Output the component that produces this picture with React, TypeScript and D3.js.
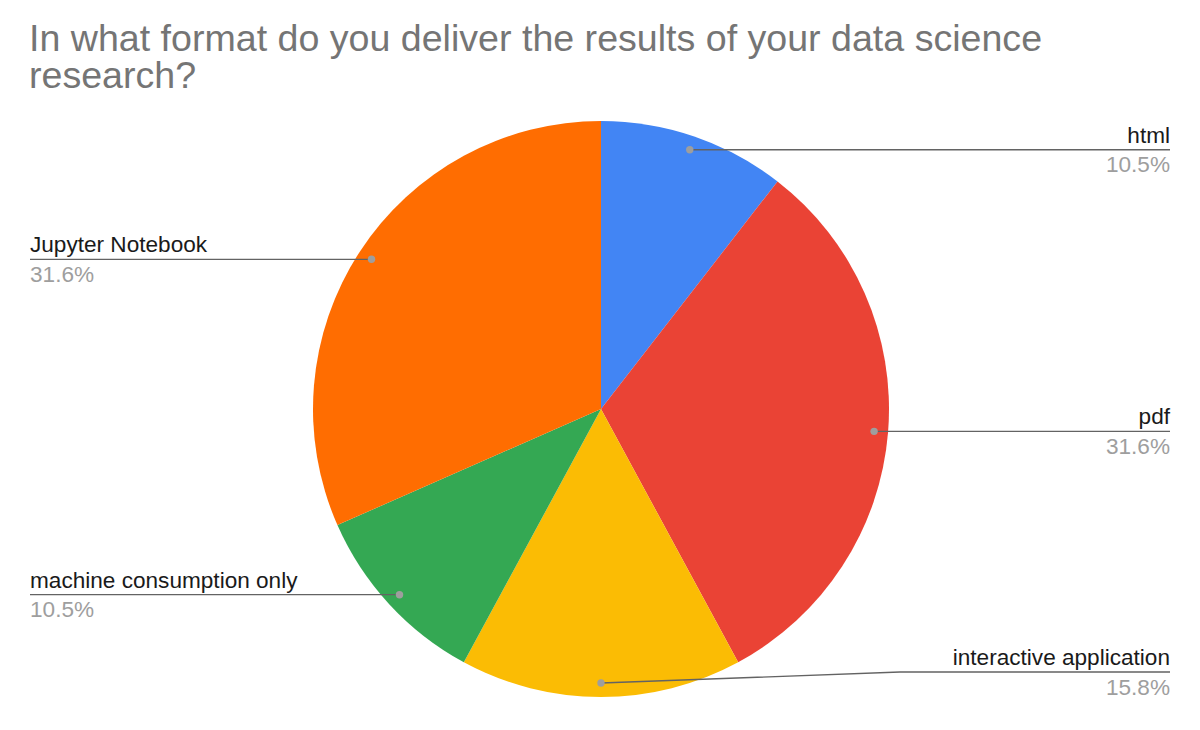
import { useEffect, useRef } from 'react';
import * as d3 from 'd3';

const TITLE_LINES = ['In what format do you deliver the results of your data science', 'research?'];
const CATEGORIES = ['html', 'pdf', 'interactive application', 'machine consumption only', 'Jupyter Notebook'];
const SHARES = [10.5, 31.6, 15.8, 10.5, 31.6];
const COLORS = ['#4285F4', '#EA4335', '#FBBC04', '#34A853', '#FF6D01'];

interface Slice {
    name: string;
    value: number;
    color: string;
}

export default function App() {
    const svgRef = useRef<SVGSVGElement>(null);

    useEffect(() => {
        if (!svgRef.current) return;

        const width = 1200;
        const height = 730;
        const cx = 601;
        const cy = 409;
        const radius = 288;
        const dotRadius = 274;
        const labelMaxY = 672;
        const font = '"Liberation Sans", Arial, sans-serif';

        const svg = d3.select(svgRef.current);
        svg.selectAll('*').remove();
        svg.attr('width', width).attr('height', height);

        svg.append('rect').attr('width', width).attr('height', height).attr('fill', '#ffffff');

        // Title
        const title = svg.append('text')
            .attr('x', 29)
            .attr('font-family', font)
            .attr('font-size', 37.6)
            .attr('fill', '#757575');
        TITLE_LINES.forEach((line, i) => {
            title.append('tspan').attr('x', 29).attr('y', 50.5 + i * 37.5).text(line);
        });

        const data: Slice[] = CATEGORIES.map((name, i) => ({ name, value: SHARES[i], color: COLORS[i] }));

        const pie = d3.pie<Slice>()
            .sort(null)
            .value(d => d.value);

        const arc = d3.arc<d3.PieArcDatum<Slice>>()
            .innerRadius(0)
            .outerRadius(radius);

        const g = svg.append('g').attr('transform', `translate(${cx},${cy})`);
        const arcs = pie(data);

        g.selectAll('path.slice')
            .data(arcs)
            .enter()
            .append('path')
            .attr('class', 'slice')
            .attr('d', arc)
            .attr('fill', d => d.data.color);

        // Leader lines and labels
        const fmt = d3.format('.1f');
        const labels = svg.append('g');
        arcs.forEach(a => {
            const mid = (a.startAngle + a.endAngle) / 2;
            const dx = cx + dotRadius * Math.sin(mid);
            const dy = cy - dotRadius * Math.cos(mid);
            const right = Math.sin(mid) >= 0;
            const lineY = Math.min(dy, labelMaxY);
            const endX = right ? 1170 : 30;
            const bendX = right ? Math.max(dx, 900) : Math.min(dx, 300);

            labels.append('path')
                .attr('d', d3.line()([[dx, dy], [bendX, lineY], [endX, lineY]]))
                .attr('fill', 'none')
                .attr('stroke', '#636363')
                .attr('stroke-width', 1.3);

            labels.append('circle')
                .attr('cx', dx)
                .attr('cy', dy)
                .attr('r', 3.7)
                .attr('fill', '#9e9e9e');

            labels.append('text')
                .attr('x', endX)
                .attr('y', lineY - 7)
                .attr('text-anchor', right ? 'end' : 'start')
                .attr('font-family', font)
                .attr('font-size', 22.6)
                .attr('fill', '#1a1a1a')
                .text(a.data.name);

            labels.append('text')
                .attr('x', endX)
                .attr('y', lineY + 22.5)
                .attr('text-anchor', right ? 'end' : 'start')
                .attr('font-family', font)
                .attr('font-size', 22.6)
                .attr('fill', '#9e9e9e')
                .text(`${fmt(a.data.value)}%`);
        });
    }, []);

    return (
        <svg ref={svgRef} style={{ position: 'absolute', left: 0, top: 0, display: 'block' }} />
    );
}
